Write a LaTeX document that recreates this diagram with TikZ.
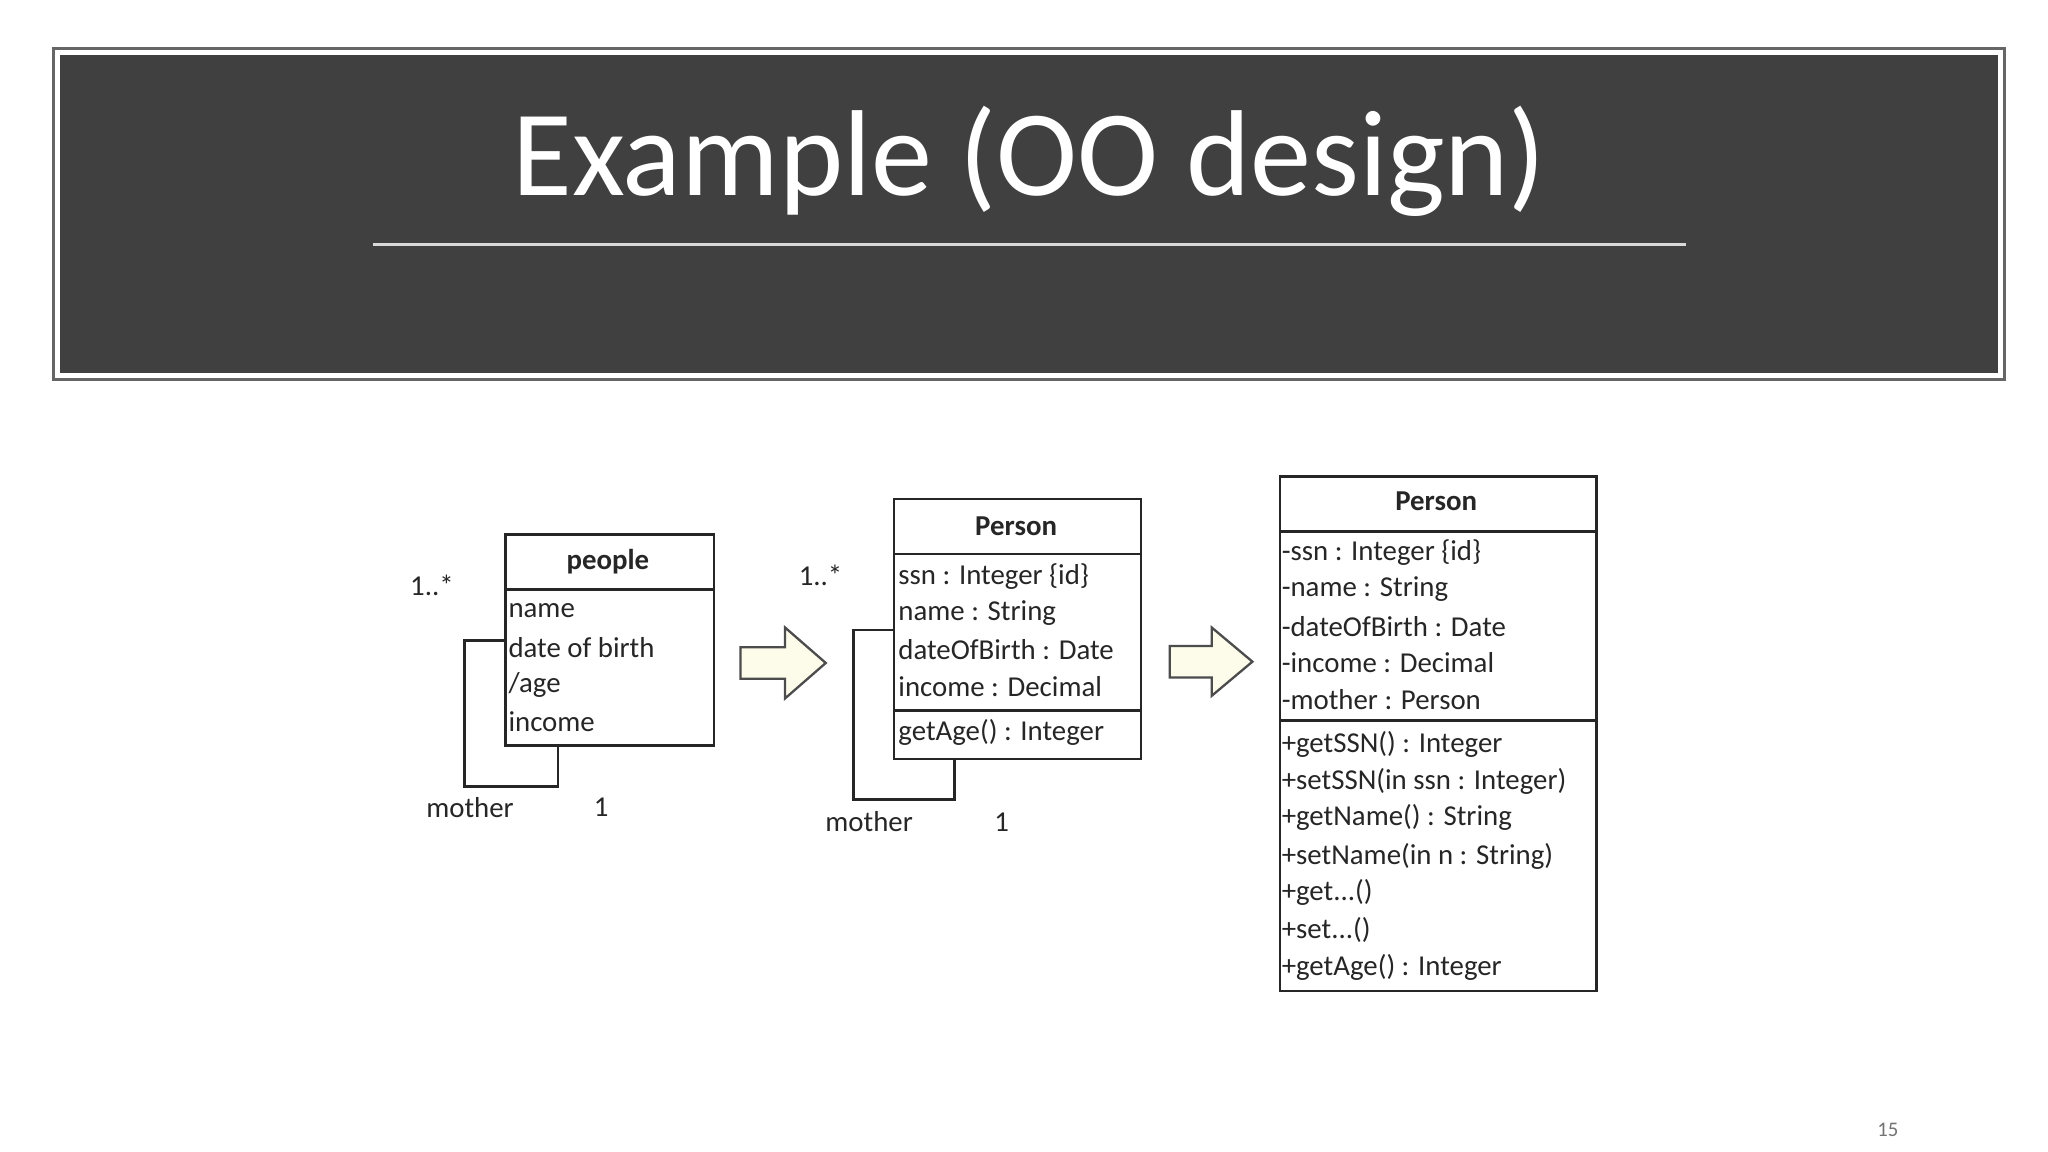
\documentclass[tikz,border=0pt]{standalone}
\usepackage{fontspec}
\setmainfont{Carlito}
\begin{document}
\begin{tikzpicture}[x=0.02cm,y=-0.02cm,
  txt/.style={font=\fontsize{12.5}{14}\selectfont,text=black!85,inner sep=0pt},
  lft/.style={txt,anchor=west},
  hdr/.style={font=\fontsize{12.5}{14}\selectfont\bfseries,text=black!85,inner sep=0pt},
  umlbox/.style={draw=black!85,line width=1.1pt},
  loop/.style={draw=black!85,line width=1.1pt},
  bigarrow/.style={draw=black!70,fill=black!10!yellow!8!white,line width=1pt,line join=miter}]
\useasboundingbox (0,0) rectangle (1560,877.5);
\fill[white] (0,0) rectangle (1560,877.5);
% title band
\draw[draw=black!60,fill=white,line width=1.2pt] (41,37) rectangle (1527,289);
\fill[black!75] (46,42) rectangle (1522,284);
\node[font=\fontsize{53}{60}\selectfont,text=white,inner sep=0pt] (title) at (784,123) {Example (OO design)};
\draw[white!85!black,line width=1.2pt] (284,186) coordinate (ul1) -- (1284,186) coordinate (ul2);
\node[font=\fontsize{9}{10}\selectfont,text=black!55] (pg) at (1438,861) {15};
% diagram 1
\draw[umlbox] (385,407) rectangle (544,568);
\draw[umlbox] (385,449) -- (544,449);
\node[hdr] (h1) at (463,428) {people};
\node[lft] (a1) at (387,465) {name};
\node[lft] (a2) at (387,493) {date of birth};
\node[lft] (a3) at (387,522) {/age};
\node[lft] (a4) at (387,550) {income};
\draw[loop] (385,488) -- (354,488) -- (354,599) -- (425,599) -- (425,568);
\node[txt] (m1a) at (329,446) {1..*};
\node[txt] (m1b) at (358,615) {mother};
\node[txt] (m1c) at (458,615) {1};
% arrow 1
\draw[bigarrow] (564,493) -- (598,493) -- (598,478) -- (629,505) -- (598,532) -- (598,517) -- (564,517) -- cycle;
% diagram 2
\draw[umlbox] (681,380) rectangle (869,578);
\draw[umlbox] (681,422) -- (869,422);
\draw[umlbox] (681,541) -- (869,541);
\node[hdr] (h2) at (774,401) {Person};
\node[lft] (b1) at (684,439) {ssn : Integer \{id\}};
\node[lft] (b2) at (684,467) {name : String};
\node[lft] (b3) at (684,495) {dateOfBirth : Date};
\node[lft] (b4) at (684,523) {income : Decimal};
\node[lft] (b5) at (684,558) {getAge() : Integer};
\draw[loop] (681,480) -- (650,480) -- (650,609) -- (727,609) -- (727,578);
\node[txt] (m2a) at (625,438) {1..*};
\node[txt] (m2b) at (662,626) {mother};
\node[txt] (m2c) at (763,626) {1};
% arrow 2
\draw[bigarrow] (891,492) -- (923,492) -- (923,478) -- (954,504) -- (923,530) -- (923,516) -- (891,516) -- cycle;
% diagram 3
\draw[umlbox] (975,363) rectangle (1216,755);
\draw[umlbox] (975,405) -- (1216,405);
\draw[umlbox] (975,549) -- (1216,549);
\node[hdr] (h3) at (1094,382) {Person};
\node[lft] (c1) at (976,421) {-ssn : Integer \{id\}};
\node[lft] (c2) at (976,449) {-name : String};
\node[lft] (c3) at (976,477) {-dateOfBirth : Date};
\node[lft] (c4) at (976,505) {-income : Decimal};
\node[lft] (c5) at (976,533) {-mother : Person};
\node[lft] (d1) at (976,567) {+getSSN() : Integer};
\node[lft] (d2) at (976,595) {+setSSN(in ssn : Integer)};
\node[lft] (d3) at (976,623) {+getName() : String};
\node[lft] (d4) at (976,652) {+setName(in n : String)};
\node[lft] (d5) at (976,680) {+get...()};
\node[lft] (d6) at (976,708) {+set...()};
\node[lft] (d7) at (976,737) {+getAge() : Integer};
\end{tikzpicture}
\end{document}
